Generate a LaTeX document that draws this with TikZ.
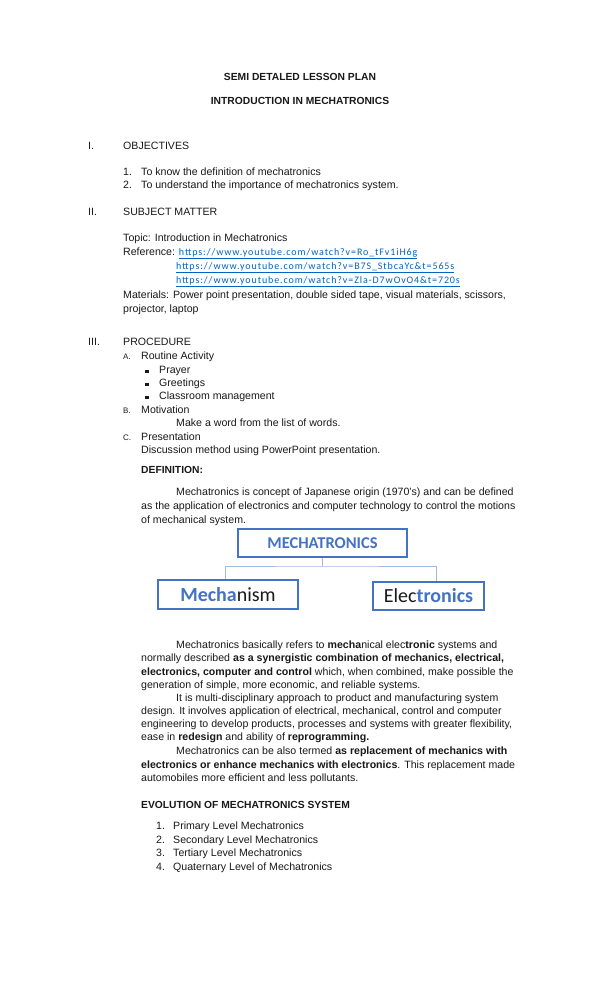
\documentclass[tikz,border=0pt]{standalone}
\usepackage{fontspec}
\setmainfont{Liberation Sans}
\newfontfamily\calib{Carlito}
\newfontfamily\calibw[LetterSpace=9]{Carlito}
\definecolor{lnk}{RGB}{5,99,193}
\definecolor{bx}{RGB}{68,114,196}
\definecolor{cn}{RGB}{160,185,225}
\definecolor{txt}{RGB}{25,25,25}
\newcommand{\lk}[1]{{\calibw\fontsize{10}{12}\selectfont\color{lnk}\underline{#1}}}
\begin{document}
\begin{tikzpicture}[x=1pt,y=1pt,
  ln/.style={anchor=base west,inner sep=0pt,font=\fontsize{10.6}{12}\selectfont,text=txt},
  ttl/.style={anchor=base,inner sep=0pt,font=\fontsize{10.3}{12}\selectfont\bfseries,text=txt},
  sm/.style={anchor=base west,inner sep=0pt,font=\fontsize{8}{10}\selectfont,text=txt},
  box/.style={draw=bx,line width=1.4pt,inner sep=0pt}]
\useasboundingbox (0,0) rectangle (600,-988);
\fill[white] (0,0) rectangle (600,-988);
\node[ttl] (t1) at (300,-80) {SEMI DETALED LESSON PLAN};
\node[ttl] (t2) at (300,-104) {INTRODUCTION IN MECHATRONICS};
\node[ln] (r1) at (88,-149) {I.};
\node[ln] (h1) at (123,-149) {OBJECTIVES};
\node[ln] (o1n) at (123,-175) {1.};
\node[ln] (o1) at (141,-175) {To know the definition of mechatronics};
\node[ln] (o2n) at (123,-188) {2.};
\node[ln] (o2) at (141,-188) {To understand the importance of mechatronics system.};
\node[ln] (r2) at (88,-215) {II.};
\node[ln] (h2) at (123,-215) {SUBJECT MATTER};
\node[ln] (s1) at (123,-241) {Topic: Introduction in Mechatronics};
\node[ln] (s2) at (123,-255) {Reference: \lk{https://www.youtube.com/watch?v=Ro\_tFv1iH6g}};
\node[ln] (s3) at (176,-269) {\lk{https://www.youtube.com/watch?v=B7S\_StbcaYc\&t=565s}};
\node[ln] (s4) at (176,-283) {\lk{https://www.youtube.com/watch?v=Zla-D7wOvO4\&t=720s}};
\node[ln] (s5) at (123,-298) {Materials: Power point presentation, double sided tape, visual materials, scissors,};
\node[ln] (s6) at (123,-312) {projector, laptop};
\node[ln] (r3) at (88,-345) {III.};
\node[ln] (h3) at (123,-345) {PROCEDURE};
\node[sm] (pa) at (123,-359) {A.};
\node[ln] (pa1) at (141,-359) {Routine Activity};
\foreach \y/\t [count=\i] in {373/Prayer,386/Greetings,399/Classroom management}{
  \node[sm] (b\i) at (145,-\y) {\rule{3.5pt}{3.5pt}};
  \node[ln] (bt\i) at (159,-\y) {\t};}
\node[sm] (pb) at (123,-413) {B.};
\node[ln] (pb1) at (141,-413) {Motivation};
\node[ln] (pb2) at (176,-426) {Make a word from the list of words.};
\node[sm] (pc) at (123,-440) {C.};
\node[ln] (pc1) at (141,-440) {Presentation};
\node[ln] (pc2) at (141,-453) {Discussion method using PowerPoint presentation.};
\node[ln,font=\fontsize{10.3}{12}\selectfont\bfseries] (d) at (141,-473) {DEFINITION:};
\node[ln] (p1) at (176,-495) {Mechatronics is concept of Japanese origin (1970’s) and can be defined};
\node[ln] (p2) at (141,-509) {as the application of electronics and computer technology to control the motions};
\node[ln] (p3) at (141,-523) {of mechanical system.};
% diagram
\node[box,minimum width=169pt,minimum height=28pt,font=\calib\fontsize{16.5}{18}\selectfont\bfseries,text=bx] (m) at (322.5,-543) {MECHATRONICS};
\node[box,minimum width=140pt,minimum height=29pt,font=\calib\fontsize{20}{22}\selectfont] (me) at (228,-594.5) {\textcolor{bx}{\bfseries Mecha}\textcolor{txt}{nism}};
\node[box,minimum width=111pt,minimum height=28pt,font=\calib\fontsize{20}{22}\selectfont] (el) at (428.5,-596) {\textcolor{txt}{Elec}\textcolor{bx}{\bfseries tronics}};
\coordinate (j) at (m.south |- 0,-566);
\draw[cn,line width=0.9pt] (m.south) -- (j);
\draw[cn,line width=0.9pt] (me.north -| 225,0) |- (j) -| (el.north -| 436,0);
\node[ln] (q1) at (176,-648) {Mechatronics basically refers to \textbf{mecha}nical elec\textbf{tronic} systems and};
\node[ln] (q2) at (141,-661) {normally described \textbf{as a synergistic combination of mechanics, electrical,}};
\node[ln] (q3) at (141,-675) {\textbf{electronics, computer and control} which, when combined, make possible the};
\node[ln] (q4) at (141,-688) {generation of simple, more economic, and reliable systems.};
\node[ln] (q5) at (176,-701) {It is multi-disciplinary approach to product and manufacturing system};
\node[ln] (q6) at (141,-714) {design. It involves application of electrical, mechanical, control and computer};
\node[ln] (q7) at (141,-727) {engineering to develop products, processes and systems with greater flexibility,};
\node[ln] (q8) at (141,-740) {ease in \textbf{redesign} and ability of \textbf{reprogramming.}};
\node[ln] (q9) at (176,-754) {Mechatronics can be also termed \textbf{as replacement of mechanics with}};
\node[ln] (q10) at (141,-768) {\textbf{electronics or enhance mechanics with electronics}. This replacement made};
\node[ln] (q11) at (141,-781) {automobiles more efficient and less pollutants.};
\node[ln,font=\fontsize{10.3}{12}\selectfont\bfseries] (ev) at (141,-808) {EVOLUTION OF MECHATRONICS SYSTEM};
\foreach \y/\t [count=\i] in {829/Primary Level Mechatronics,843/Secondary Level Mechatronics,856/Tertiary Level Mechatronics,870/Quaternary Level of Mechatronics}{
  \node[ln] (en\i) at (156,-\y) {\i.};
  \node[ln] (e\i) at (173,-\y) {\t};}
\end{tikzpicture}
\end{document}
